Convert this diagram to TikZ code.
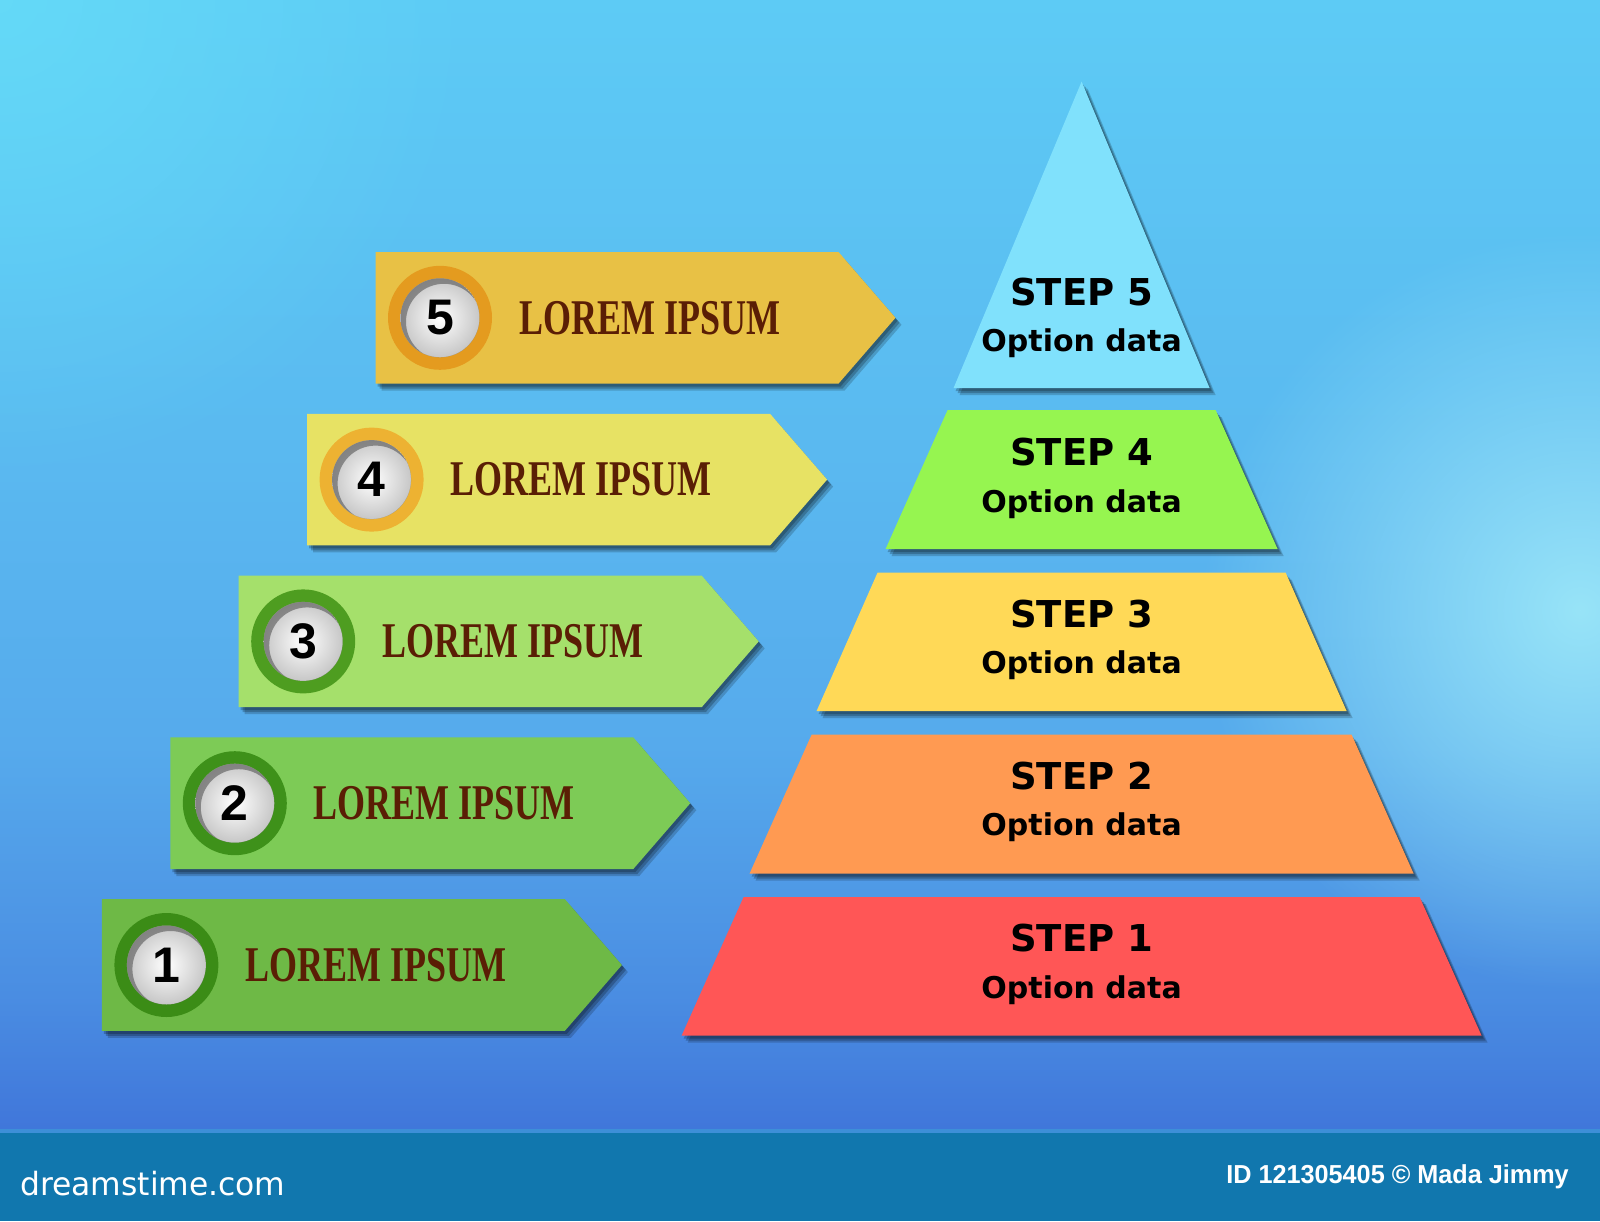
\documentclass[tikz,border=0pt]{standalone}
\usepackage{fontspec}
\setmainfont{DejaVu Sans}
\newfontfamily\loremfont{Liberation Serif}
\newfontfamily\arialfont{Liberation Sans}
\usetikzlibrary{fadings}
\tikzfading[name=glowfade,inner color=transparent!0,outer color=transparent!100]
\definecolor{glowR}{HTML}{98E4F8}
\definecolor{glowL}{HTML}{66DDF8}
\definecolor{banner}{HTML}{1177AE}
\definecolor{bannerline}{HTML}{3D8FD8}
\definecolor{ar5}{HTML}{E8C145}
\definecolor{ar4}{HTML}{E7E264}
\definecolor{ar3}{HTML}{A5E06B}
\definecolor{ar2}{HTML}{7DCB56}
\definecolor{ar1}{HTML}{6EB946}
\definecolor{rg5}{HTML}{E49B1F}
\definecolor{rg4}{HTML}{EDB232}
\definecolor{rg3}{HTML}{4E9D20}
\definecolor{rg2}{HTML}{3E911A}
\definecolor{rg1}{HTML}{3B8C16}
\definecolor{st5}{HTML}{80E1FC}
\definecolor{st4}{HTML}{96F550}
\definecolor{st3}{HTML}{FFD957}
\definecolor{st2}{HTML}{FF9A52}
\definecolor{st1}{HTML}{FF5656}
\definecolor{brown}{HTML}{5A1E05}
\pgfdeclareverticalshading{bgshade}{100bp}{
  color(0bp)=(rgb,255:red,64;green,118;blue,218);
  color(25bp)=(rgb,255:red,64;green,118;blue,218);
  color(31bp)=(rgb,255:red,74;green,141;blue,226);
  color(42bp)=(rgb,255:red,86;green,170;blue,236);
  color(55bp)=(rgb,255:red,90;green,185;blue,240);
  color(75bp)=(rgb,255:red,93;green,203;blue,245);
  color(100bp)=(rgb,255:red,93;green,203;blue,245)}
\tikzset{
  shad/.style={
    preaction={fill=black,fill opacity=0.22,transform canvas={shift={(2pt,-3pt)}}},
    preaction={fill=black,fill opacity=0.22,transform canvas={shift={(4pt,-5pt)}}},
    preaction={fill=black,fill opacity=0.18,transform canvas={shift={(6pt,-7pt)}}}},
  arrowbox/.style={shad},
  stepbox/.style={shad},
  ring/.style={circle,minimum size=104pt,inner sep=0pt},
  ball/.style={circle,minimum size=79pt,inner sep=0pt,
    inner color=white,outer color=black!22,
    path picture={\fill[black!75,opacity=.5,even odd rule,shift={(path picture bounding box.center)}]
      (0,0) circle (39.5) (4,4) circle (38);}},
  num/.style={font=\arialfont\bfseries\fontsize{50}{50}\selectfont,inner sep=0pt},
  loremtxt/.style={anchor=west,inner sep=0pt,xscale=0.72,transform shape,text=brown,
    font=\loremfont\bfseries\fontsize{50}{50}\selectfont},
  steptxt/.style={font=\bfseries\fontsize{37}{37}\selectfont,inner sep=0pt},
  opttxt/.style={font=\bfseries\fontsize{30}{30}\selectfont,inner sep=0pt},
}
\begin{document}
\begin{tikzpicture}[x=1pt,y=-1pt]
\useasboundingbox (0,0) rectangle (1600,1221);
% background
\shade[shading=bgshade] (0,0) rectangle (1600,1131);
\begin{scope}
\clip (0,0) rectangle (1600,1131);
\fill[glowL,path fading=glowfade,opacity=.8] (0,0) circle (480);
\fill[glowR,path fading=glowfade] (1580,610) circle (380);
\end{scope}
\fill[banner] (0,1131) rectangle (1600,1221);
\fill[bannerline] (0,1129) rectangle (1600,1133);
\node[anchor=west,text=white,font=\fontsize{32}{32}\selectfont,inner sep=0pt,xscale=0.98,transform shape] (brand) at (20,1184) {dreamstime.com};
\node[anchor=east,text=white,font=\arialfont\bfseries\fontsize{26}{26}\selectfont,inner sep=0pt,xscale=0.97,transform shape] (credit) at (1569,1177) {ID 121305405 © Mada Jimmy};
% arrows
\foreach \n/\fc/\rc in {5/ar5/rg5,4/ar4/rg4,3/ar3/rg3,2/ar2/rg2,1/ar1/rg1}{
  \pgfmathsetmacro\L{375.5-(5-\n)*68.4}
  \pgfmathsetmacro\T{252+(5-\n)*161.8}
  \pgfmathsetmacro\B{\T+131.6}
  \pgfmathsetmacro\M{\T+65.8}
  \pgfmathsetmacro\E{\L+463}
  \pgfmathsetmacro\P{\L+520}
  \path[arrowbox,fill=\fc] (\L,\T) -- (\E,\T) -- (\P,\M) -- (\E,\B) -- (\L,\B) -- cycle;
  \node[ring,fill=\rc] (ring\n) at (\L+64.5,\M) {};
  \node[ball] (ball\n) at (ring\n) {};
  \node[num] (num\n) at (ring\n) {\n};
  \node[loremtxt] (lab\n) at (\L+143.5,\M) {LOREM IPSUM};
}
% pyramid
\def\cx{1081.6}
\path[stepbox,fill=st5] (\cx,81.6) -- (\cx+128,388) -- (\cx-128,388) -- cycle;
\path[stepbox,fill=st4] (\cx-134,410) -- (\cx+134,410) -- (\cx+196,549) -- (\cx-196,549) -- cycle;
\path[stepbox,fill=st3] (\cx-204,572.5) -- (\cx+204,572.5) -- (\cx+265,711) -- (\cx-265,711) -- cycle;
\path[stepbox,fill=st2] (\cx-270,734.7) -- (\cx+270,734.7) -- (\cx+332,873.5) -- (\cx-332,873.5) -- cycle;
\path[stepbox,fill=st1] (\cx-338,897) -- (\cx+338,897) -- (\cx+400,1035.7) -- (\cx-400,1035.7) -- cycle;
\node[steptxt] (step5) at (\cx,292) {STEP 5};
\node[opttxt] (opt5) at (\cx,343) {Option data};
\node[steptxt] (step4) at (\cx,452) {STEP 4};
\node[opttxt] (opt4) at (\cx,504) {Option data};
\node[steptxt] (step3) at (\cx,614) {STEP 3};
\node[opttxt] (opt3) at (\cx,665) {Option data};
\node[steptxt] (step2) at (\cx,776.5) {STEP 2};
\node[opttxt] (opt2) at (\cx,827.5) {Option data};
\node[steptxt] (step1) at (\cx,938) {STEP 1};
\node[opttxt] (opt1) at (\cx,990) {Option data};
\end{tikzpicture}
\end{document}
